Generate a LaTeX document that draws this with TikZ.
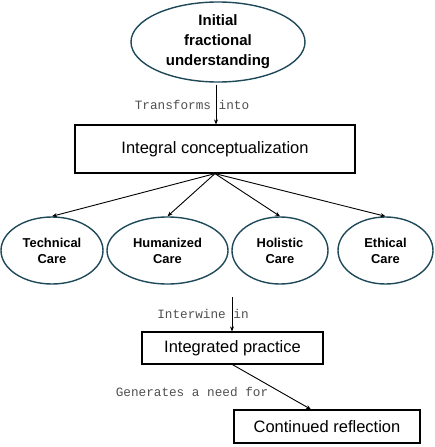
\documentclass[tikz,border=0pt]{standalone}
\usepackage{fontspec}
\setmainfont{Liberation Sans}
\setmonofont{Liberation Mono}
\usetikzlibrary{shapes.geometric,arrows.meta,calc}
\definecolor{teal}{RGB}{31,73,89}
\definecolor{lblgray}{RGB}{80,80,80}
\tikzset{
  ell/.style={ellipse, draw=teal, line width=1.4pt, inner sep=0pt, align=center,
    font=\bfseries\fontsize{12.9}{16}\selectfont},
  box/.style={rectangle, draw=black, line width=1.2pt, inner sep=0pt},
  lbl/.style={font=\ttfamily\fontsize{12.7}{14}\selectfont, text=lblgray, inner sep=0pt},
  arr/.style={-{Stealth[length=5pt,width=4pt]}, line width=0.9pt, black},
}
\begin{document}
\begin{tikzpicture}[x=1pt,y=-1pt]
\useasboundingbox (0,0) rectangle (435,447);
\node[ell, minimum width=174pt, minimum height=80pt, font=\bfseries\fontsize{15}{20}\selectfont] (init) at (218,42) {Initial\\fractional\\understanding};
\node[box, minimum width=280pt, minimum height=48pt, font=\fontsize{16.5}{18}\selectfont] (integral) at (215,149) {Integral conceptualization};
\node[ell, minimum width=102pt, minimum height=67pt] (tech) at (52,250.5) {Technical\\Care};
\node[ell, minimum width=121pt, minimum height=67pt] (hum) at (167.5,250.5) {Humanized\\Care};
\node[ell, minimum width=96pt, minimum height=67pt] (hol) at (280,250.5) {Holistic\\Care};
\node[ell, minimum width=95pt, minimum height=67pt] (eth) at (385.5,250.5) {Ethical\\Care};
\node[box, minimum width=181pt, minimum height=32pt, font=\fontsize{16.5}{18}\selectfont] (practice) at (232.5,348) {Integrated practice};
\node[box, minimum width=186pt, minimum height=33pt, font=\fontsize{16.5}{18}\selectfont] (reflection) at (327,426.5) {Continued reflection};
\node[lbl] (l1) at (192,105) {Transforms into};
\node[lbl] (l2) at (203,314) {Interwine in};
\node[lbl] (l3) at (192,392) {Generates a need for};
\coordinate (cstart) at (232,297);
\draw[arr] ($(init.south)+(-2,2)$) -- ($(integral.north)+(1,0)$);
\draw[arr] (integral.south) -- (tech.north);
\draw[arr] (integral.south) -- (hum.north);
\draw[arr] (integral.south) -- (hol.north);
\draw[arr] (integral.south) -- (eth.north);
\draw[arr] (cstart) -- (cstart |- practice.north);
\draw[arr] (practice.south) -- ($(reflection.north)+(-16,0)$);
\end{tikzpicture}
\end{document}
